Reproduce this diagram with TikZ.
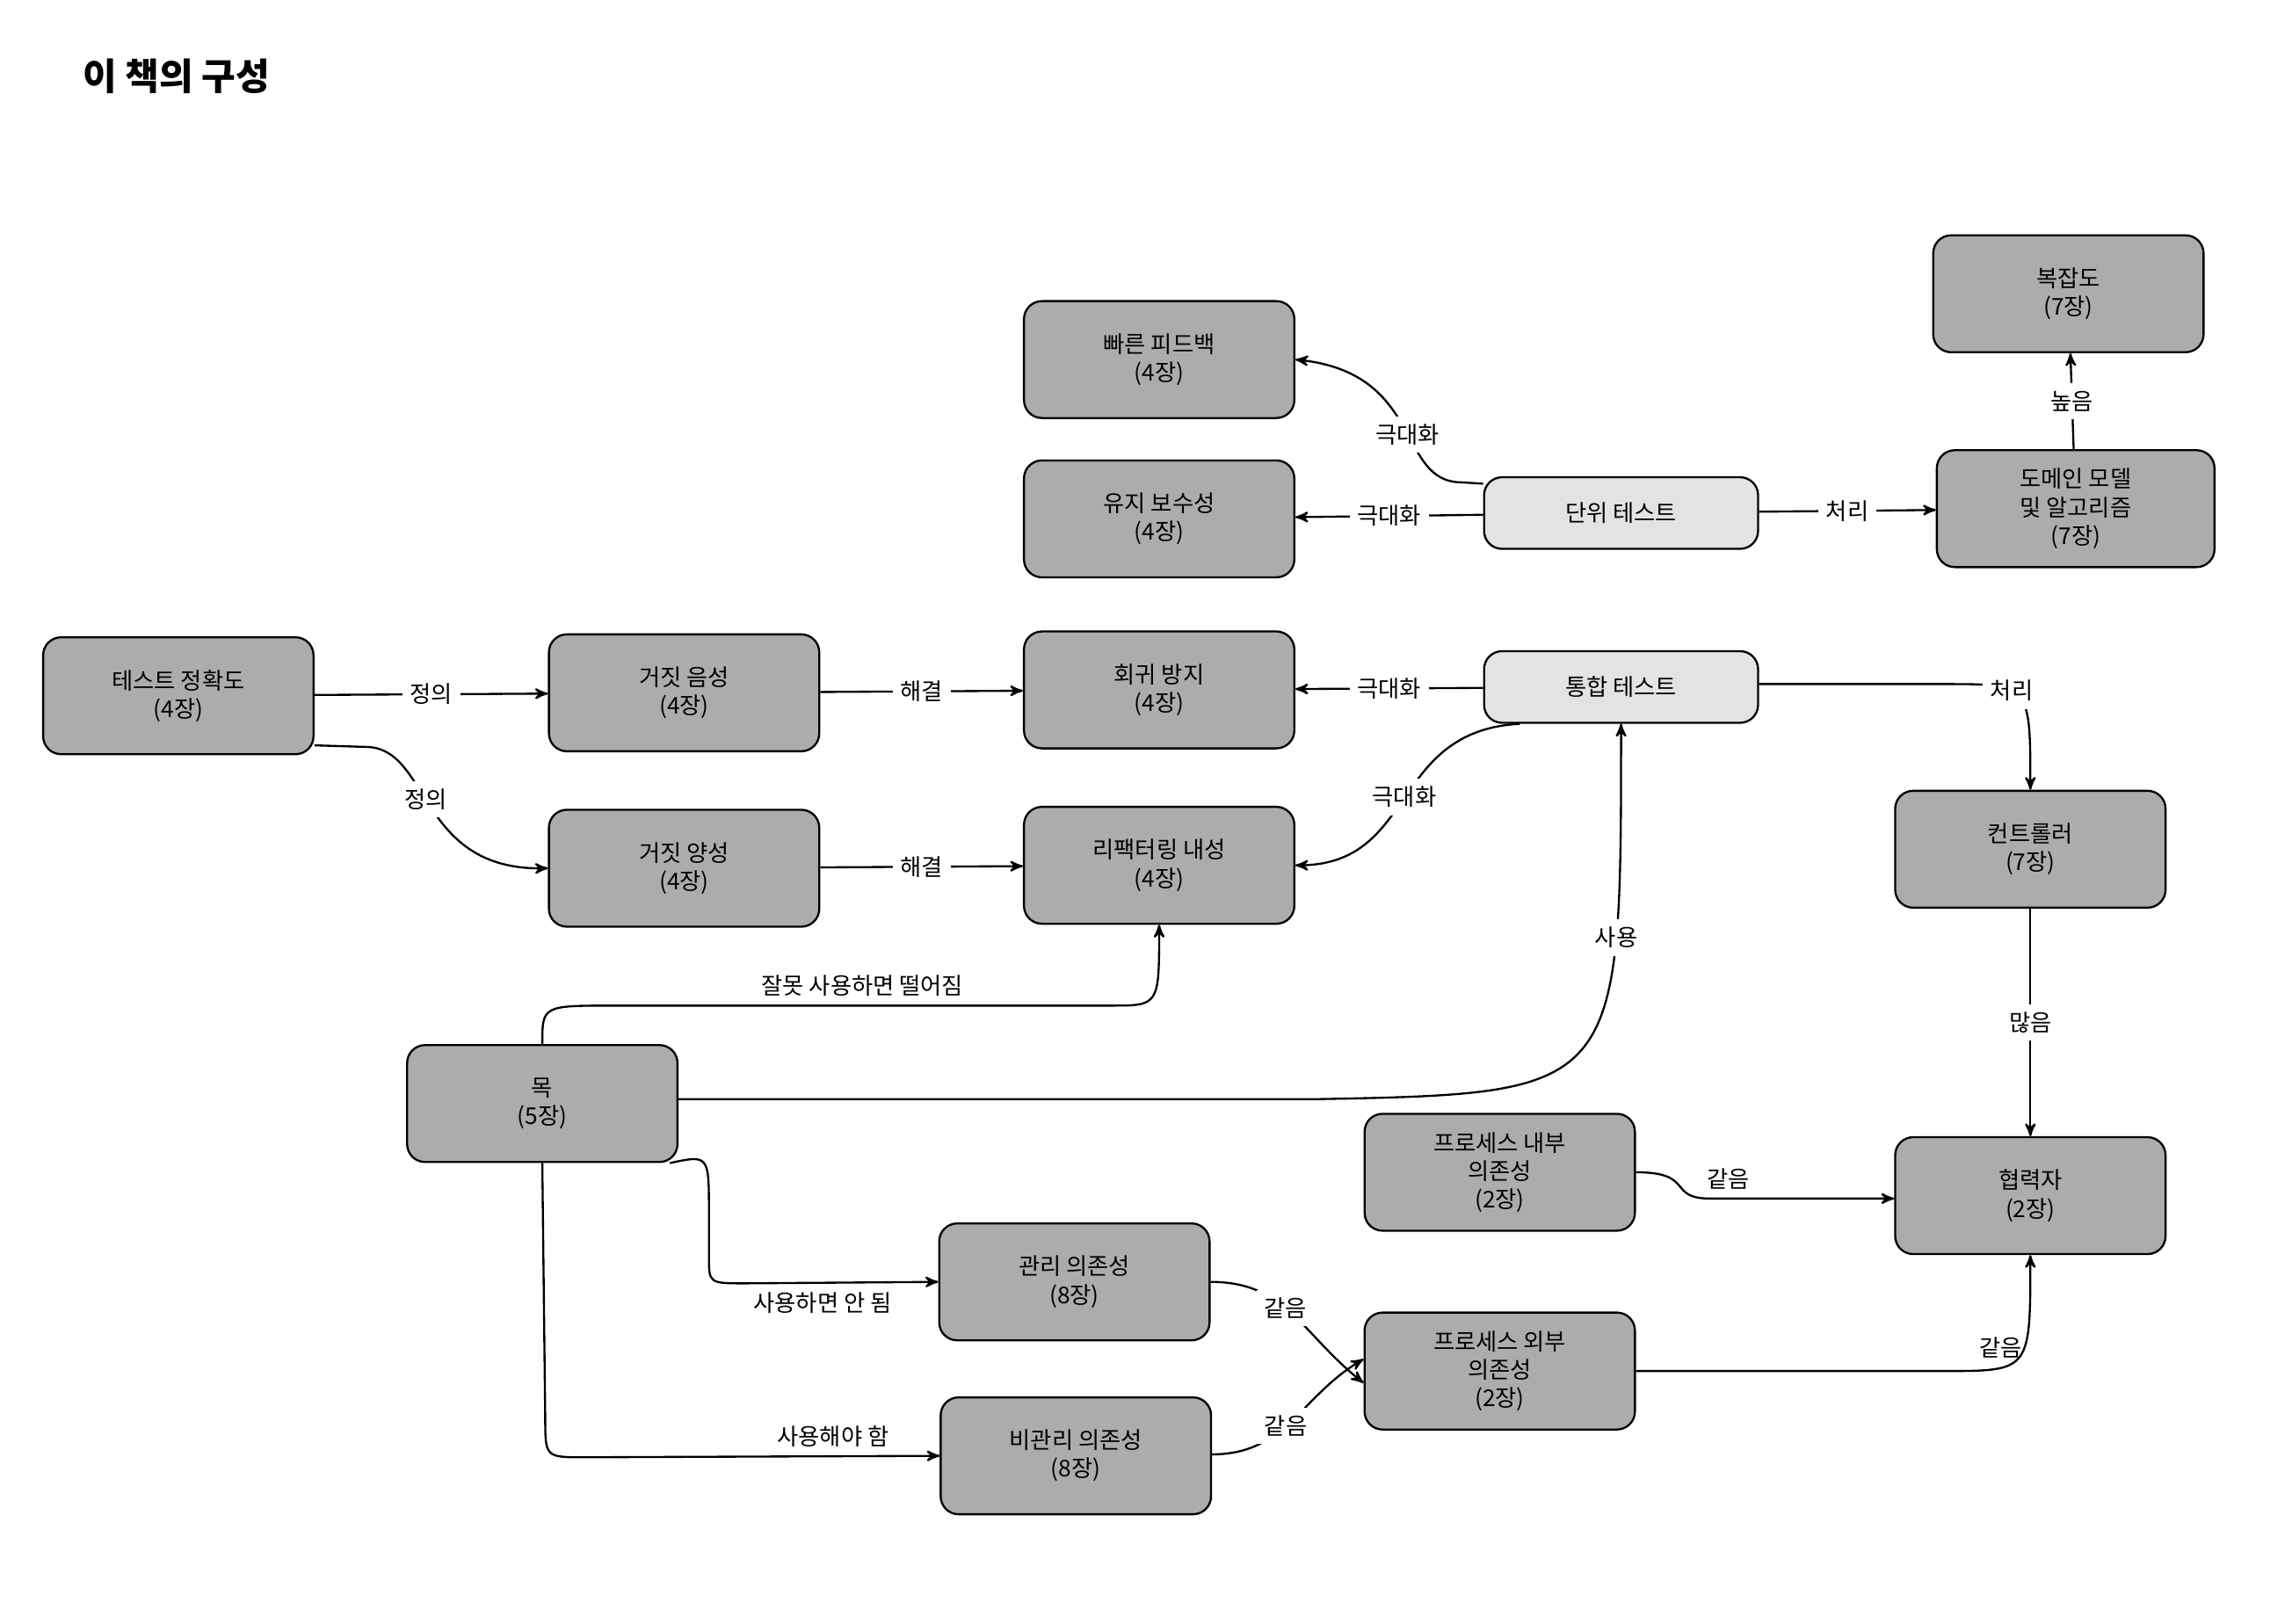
\documentclass[tikz,border=0pt]{standalone}
\usepackage{fontspec}
\setmainfont{Noto Sans CJK KR}
\usetikzlibrary{arrows}

\begin{document}
\begin{tikzpicture}[x=0.02cm,y=-0.02cm,->,>=stealth',thick,
    dark node/.style={rectangle,rounded corners=7pt,draw,fill=gray!65,minimum width=3.7cm,minimum height=1.6cm,align=center,font=\small,inner sep=2pt},
    light node/.style={rectangle,rounded corners=7pt,draw,fill=gray!22,minimum width=3.75cm,minimum height=0.98cm,align=center,font=\small},
    lbl/.style={fill=white,font=\small,inner sep=3pt}]

  \useasboundingbox (0,0) rectangle (1568,1111);
  \node[font=\Large\bfseries,anchor=west] (title) at (50,52) {이 책의 구성};

  \node[dark node]  (fast) at (793,246) {빠른 피드백\\(4장)};
  \node[dark node]  (maint) at (793,355) {유지 보수성\\(4장)};
  \node[light node] (unit) at (1109,351) {단위 테스트};
  \node[dark node]  (complex) at (1415,201) {복잡도\\(7장)};
  \node[dark node,minimum width=3.8cm]  (domain) at (1420,348) {도메인 모델\\및 알고리즘\\(7장)};
  \node[dark node]  (acc) at (122,476) {테스트 정확도\\(4장)};
  \node[dark node]  (fneg) at (468,474) {거짓 음성\\(4장)};
  \node[dark node]  (regr) at (793,472) {회귀 방지\\(4장)};
  \node[light node] (integ) at (1109,470) {통합 테스트};
  \node[dark node]  (fpos) at (468,594) {거짓 양성\\(4장)};
  \node[dark node]  (refac) at (793,592) {리팩터링 내성\\(4장)};
  \node[dark node]  (ctrl) at (1389,581) {컨트롤러\\(7장)};
  \node[dark node]  (mock) at (371,755) {목\\(5장)};
  \node[dark node]  (inproc) at (1026,802) {프로세스 내부\\의존성\\(2장)};
  \node[dark node]  (collab) at (1389,818) {협력자\\(2장)};
  \node[dark node]  (managed) at (735,877) {관리 의존성\\(8장)};
  \node[dark node]  (outproc) at (1026,938) {프로세스 외부\\의존성\\(2장)};
  \node[dark node]  (unman) at (736,996) {비관리 의존성\\(8장)};

  \draw (unit.168) -- (1000,330) .. controls (955,330) and (975,255) .. (fast.east)
        node[lbl,pos=0.45] {극대화};
  \draw (unit) -- node[lbl] {극대화} (maint);
  \draw (unit) -- node[lbl] {처리} (domain);
  \draw (domain) -- node[lbl] {높음} (complex);
  \draw (acc) -- node[lbl] {정의} (fneg);
  \draw (acc.-20) -- (250,511) .. controls (295,511) and (285,596) .. (fpos.west)
        node[lbl,pos=0.45] {정의};
  \draw (fneg) -- node[lbl] {해결} (regr);
  \draw (fpos) -- node[lbl] {해결} (refac);
  \draw (integ) -- node[lbl] {극대화} (regr);
  \draw (integ.-160) .. controls (950,500) and (970,592) .. (refac.east)
        node[lbl,pos=0.5] {극대화};
  \draw (integ.east |- 0,468) -- (1330,468) .. controls (1389,468) .. (ctrl.north)
        node[lbl,pos=0.4] {처리};
  \draw (mock.east |- 0,752) -- (900,752) .. controls (1109,748) .. (integ.south)
        node[lbl,pos=0.75] {사용};
  \draw (mock.north) .. controls (371,688) .. (420,688) -- (760,688)
        node[above,font=\small,pos=0.5,draw=none] {잘못 사용하면 떨어짐}
        .. controls (793,688) .. (refac.south);
  \draw (mock.-25) .. controls (485,790) .. (485,830) -- (485,860)
        .. controls (485,878) .. (510,878) -- (managed.west)
        node[below,font=\small,pos=0.4] {사용하면 안 됨};
  \draw (mock.south) -- (373,970) .. controls (373,997) .. (400,997) -- (unman.west)
        node[above,font=\small,pos=0.7] {사용해야 함};
  \draw (managed.east |- 0,877) .. controls (880,877) and (890,912) .. (outproc.-175)
        node[lbl,pos=0.45] {같음};
  \draw (unman.east |- 0,995) .. controls (880,995) and (890,955) .. (outproc.175)
        node[lbl,pos=0.45] {같음};
  \draw (outproc.east) -- (1330,938) .. controls (1389,938) .. (collab.south)
        node[above,font=\small,pos=0.3] {같음};
  \draw (inproc.east |- 0,802) .. controls (1160,802) and (1140,820) .. (1170,820) -- (collab.west |- 0,820)
        node[above,font=\small,pos=0.1] {같음};
  \draw (ctrl) -- node[lbl] {많음} (collab);
\end{tikzpicture}
\end{document}
